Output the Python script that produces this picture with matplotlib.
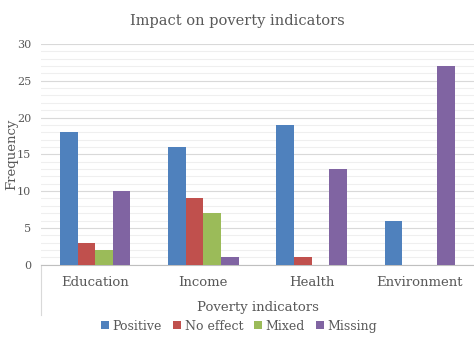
import numpy as np
import matplotlib.pyplot as plt
from matplotlib.ticker import MultipleLocator

categories = ["Education", "Income", "Health", "Environment"]
series = ["Positive", "No effect", "Mixed", "Missing"]
positive = [18, 16, 19, 6]
no_effect = [3, 9, 1, 0]
mixed = [2, 7, 0, 0]
missing = [10, 1, 13, 27]
colors = ["#4F81BD", "#C0504D", "#9BBB59", "#8064A2"]

plt.rcParams['font.family'] = ['DejaVu Serif']
txt = "#595959"

fig = plt.figure(figsize=(4.74, 3.45), dpi=100)
ax = fig.add_axes([0.0865, 0.2328, 0.9135, 0.6397])

x = np.arange(len(categories))
w = 0.1625
for i, (vals, name) in enumerate(zip([positive, no_effect, mixed, missing], series)):
    ax.bar(x + (i - 1.5) * w, vals, w, color=colors[i], label=name, zorder=3)

ax.set_xlim(-0.5, 3.5)
ax.set_ylim(0, 30)
ax.yaxis.set_major_locator(MultipleLocator(5))
ax.yaxis.set_minor_locator(MultipleLocator(1))
ax.grid(axis='y', which='major', color="#D9D9D9", lw=0.8, zorder=0)
ax.grid(axis='y', which='minor', color="#EFEFEF", lw=0.8, zorder=0)
for s in ['top', 'right', 'left']:
    ax.spines[s].set_visible(False)
ax.spines['bottom'].set_color("#BFBFBF")
ax.tick_params(axis='y', which='both', length=0, labelsize=8, labelcolor=txt, pad=7)
ax.tick_params(axis='x', length=0, labelsize=9.5, labelcolor=txt, pad=8)
ax.set_xticks(x)
ax.set_xticklabels(categories)
ax.set_ylabel("Frequency", fontsize=9.5, color=txt)
ax.yaxis.set_label_coords(-0.052, 0.5)
ax.set_xlabel("Poverty indicators", fontsize=9.5, color=txt, labelpad=9)
ax.axvline(-0.5, ymin=-0.23, ymax=0, color="#D9D9D9", lw=0.8, clip_on=False)

fig.text(0.5, 0.94, "Impact on poverty indicators", ha='center', va='center',
         fontsize=10.5, color=txt)
fig.legend(loc='center', bbox_to_anchor=(0.505, 0.055), ncol=4, frameon=False,
           fontsize=9, labelcolor=txt, handlelength=0.6, handleheight=0.6,
           handletextpad=0.3, columnspacing=0.9)

fig.savefig("out.png", dpi=100)
